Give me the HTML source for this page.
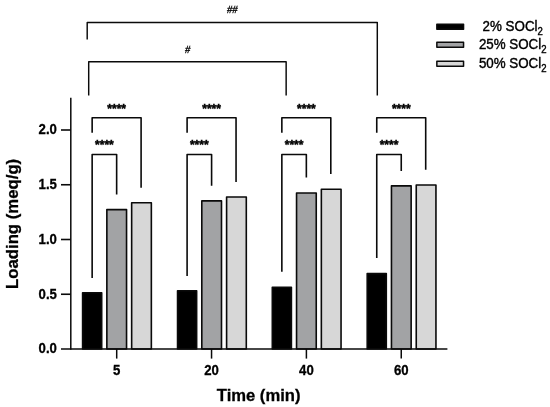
<!DOCTYPE html>
<html><head><meta charset="utf-8"><title>Loading vs time</title>
<style>html,body{margin:0;padding:0;background:#fff}svg{display:block}</style></head>
<body>
<svg width="550" height="407" viewBox="0 0 550 407">
<rect width="550" height="407" fill="#fff"/>
<rect x="82.60" y="292.70" width="19.10" height="56.30" fill="#000" stroke="#0a0a0a" stroke-width="1.6" stroke-linejoin="round"/>
<rect x="106.85" y="209.60" width="19.70" height="139.40" fill="#a2a3a5" stroke="#0a0a0a" stroke-width="1.6" stroke-linejoin="round"/>
<rect x="131.65" y="202.70" width="19.70" height="146.30" fill="#d7d7d7" stroke="#0a0a0a" stroke-width="1.6" stroke-linejoin="round"/>
<rect x="177.55" y="290.80" width="19.10" height="58.20" fill="#000" stroke="#0a0a0a" stroke-width="1.6" stroke-linejoin="round"/>
<rect x="201.80" y="200.90" width="19.70" height="148.10" fill="#a2a3a5" stroke="#0a0a0a" stroke-width="1.6" stroke-linejoin="round"/>
<rect x="226.60" y="197.00" width="19.70" height="152.00" fill="#d7d7d7" stroke="#0a0a0a" stroke-width="1.6" stroke-linejoin="round"/>
<rect x="272.30" y="287.30" width="19.10" height="61.70" fill="#000" stroke="#0a0a0a" stroke-width="1.6" stroke-linejoin="round"/>
<rect x="296.55" y="193.00" width="19.70" height="156.00" fill="#a2a3a5" stroke="#0a0a0a" stroke-width="1.6" stroke-linejoin="round"/>
<rect x="321.35" y="189.20" width="19.70" height="159.80" fill="#d7d7d7" stroke="#0a0a0a" stroke-width="1.6" stroke-linejoin="round"/>
<rect x="367.20" y="273.60" width="19.10" height="75.40" fill="#000" stroke="#0a0a0a" stroke-width="1.6" stroke-linejoin="round"/>
<rect x="391.45" y="185.90" width="19.70" height="163.10" fill="#a2a3a5" stroke="#0a0a0a" stroke-width="1.6" stroke-linejoin="round"/>
<rect x="416.25" y="185.00" width="19.70" height="164.00" fill="#d7d7d7" stroke="#0a0a0a" stroke-width="1.6" stroke-linejoin="round"/>
<g stroke="#0a0a0a" fill="none" stroke-linecap="butt">
<line x1="70.8" y1="97.7" x2="70.8" y2="349.85" stroke-width="1.5"/>
<line x1="61" y1="349" x2="447.4" y2="349" stroke-width="1.7"/>
<line x1="61" y1="294.25" x2="70.8" y2="294.25" stroke-width="1.6"/>
<line x1="61" y1="239.50" x2="70.8" y2="239.50" stroke-width="1.6"/>
<line x1="61" y1="184.75" x2="70.8" y2="184.75" stroke-width="1.6"/>
<line x1="61" y1="130.00" x2="70.8" y2="130.00" stroke-width="1.6"/>
<line x1="116.70" y1="349" x2="116.70" y2="358.6" stroke-width="1.5"/>
<line x1="211.55" y1="349" x2="211.55" y2="358.6" stroke-width="1.5"/>
<line x1="306.40" y1="349" x2="306.40" y2="358.6" stroke-width="1.5"/>
<line x1="401.25" y1="349" x2="401.25" y2="358.6" stroke-width="1.5"/>
</g>
<g stroke="#0a0a0a" fill="none" stroke-width="1.6" stroke-linejoin="round">
<path d="M92.15 132.8V117.7H141.10V187.7"/>
<path d="M92.15 278.0V154.5H116.65V194.5"/>
<path d="M187.10 132.8V117.7H236.05V181.9"/>
<path d="M187.10 275.9V154.5H211.60V185.7"/>
<path d="M281.85 132.8V117.7H330.80V174.0"/>
<path d="M281.85 271.8V154.5H306.35V177.5"/>
<path d="M376.75 132.8V117.7H425.70V169.8"/>
<path d="M376.75 257.9V154.5H401.25V170.9"/>
<path stroke-width="1.45" d="M87.2 39.4V22.5H377.3V95.5"/>
<path stroke-width="1.45" d="M88.7 95.5V61.8H286.15V95.5"/>
</g>
<g font-family="'Liberation Sans', Arial, sans-serif" fill="#000">
<text transform="translate(232.0 12.9) scale(0.9 1) skewX(-7)" font-size="10.5" text-anchor="middle" stroke="#000" stroke-width="0.35">##</text>
<text transform="translate(187.4 53.0) scale(0.9 1) skewX(-7)" font-size="10.5" text-anchor="middle" stroke="#000" stroke-width="0.35">#</text>
<text transform="translate(116.7 112.8)" font-size="12" text-anchor="middle" font-weight="bold" stroke="#000" stroke-width="0.45">****</text>
<text transform="translate(104.43 149.4)" font-size="12" text-anchor="middle" font-weight="bold" stroke="#000" stroke-width="0.45">****</text>
<text transform="translate(211.55 112.8)" font-size="12" text-anchor="middle" font-weight="bold" stroke="#000" stroke-width="0.45">****</text>
<text transform="translate(199.28 149.4)" font-size="12" text-anchor="middle" font-weight="bold" stroke="#000" stroke-width="0.45">****</text>
<text transform="translate(306.4 112.8)" font-size="12" text-anchor="middle" font-weight="bold" stroke="#000" stroke-width="0.45">****</text>
<text transform="translate(294.12 149.4)" font-size="12" text-anchor="middle" font-weight="bold" stroke="#000" stroke-width="0.45">****</text>
<text transform="translate(401.25 112.8)" font-size="12" text-anchor="middle" font-weight="bold" stroke="#000" stroke-width="0.45">****</text>
<text transform="translate(388.97 149.4)" font-size="12" text-anchor="middle" font-weight="bold" stroke="#000" stroke-width="0.45">****</text>
<text transform="translate(116.7 374.5) scale(0.955 1)" font-size="13.8" text-anchor="middle" font-weight="bold" stroke="#000" stroke-width="0.3">5</text>
<text transform="translate(211.55 374.5) scale(0.955 1)" font-size="13.8" text-anchor="middle" font-weight="bold" stroke="#000" stroke-width="0.3">20</text>
<text transform="translate(306.4 374.5) scale(0.955 1)" font-size="13.8" text-anchor="middle" font-weight="bold" stroke="#000" stroke-width="0.3">40</text>
<text transform="translate(401.25 374.5) scale(0.955 1)" font-size="13.8" text-anchor="middle" font-weight="bold" stroke="#000" stroke-width="0.3">60</text>
<text transform="translate(56.9 353.3) scale(0.955 1)" font-size="13.8" text-anchor="end" font-weight="bold" stroke="#000" stroke-width="0.3">0.0</text>
<text transform="translate(56.9 298.55) scale(0.955 1)" font-size="13.8" text-anchor="end" font-weight="bold" stroke="#000" stroke-width="0.3">0.5</text>
<text transform="translate(56.9 243.8) scale(0.955 1)" font-size="13.8" text-anchor="end" font-weight="bold" stroke="#000" stroke-width="0.3">1.0</text>
<text transform="translate(56.9 189.05) scale(0.955 1)" font-size="13.8" text-anchor="end" font-weight="bold" stroke="#000" stroke-width="0.3">1.5</text>
<text transform="translate(56.9 134.3) scale(0.955 1)" font-size="13.8" text-anchor="end" font-weight="bold" stroke="#000" stroke-width="0.3">2.0</text>
<text transform="translate(258.6 400.5) scale(0.955 1)" font-size="17.4" text-anchor="middle" font-weight="bold" stroke="#000" stroke-width="0.3">Time (min)</text>
<text transform="translate(18.2 223.9) rotate(-90) scale(0.968 1)" font-size="17.3" text-anchor="middle" font-weight="bold" stroke="#000" stroke-width="0.3">Loading (meq/g)</text>
<rect x="436.85" y="24.25" width="26.7" height="5" fill="#000" stroke="#0a0a0a" stroke-width="1.5" stroke-linejoin="round"/>
<text transform="translate(512.7 30.6) scale(0.955 1)" font-size="14" text-anchor="middle" stroke="#000" stroke-width="0.4">2% SOCl<tspan font-size="10" dy="4">2</tspan></text>
<rect x="436.85" y="42.15" width="26.7" height="5" fill="#a2a3a5" stroke="#0a0a0a" stroke-width="1.5" stroke-linejoin="round"/>
<text transform="translate(512.7 49.3) scale(0.955 1)" font-size="14" text-anchor="middle" stroke="#000" stroke-width="0.4">25% SOCl<tspan font-size="10" dy="4">2</tspan></text>
<rect x="436.85" y="61.15" width="26.7" height="5" fill="#d7d7d7" stroke="#0a0a0a" stroke-width="1.5" stroke-linejoin="round"/>
<text transform="translate(512.7 68.3) scale(0.955 1)" font-size="14" text-anchor="middle" stroke="#000" stroke-width="0.4">50% SOCl<tspan font-size="10" dy="4">2</tspan></text>
</g>
</svg>
</body></html>
